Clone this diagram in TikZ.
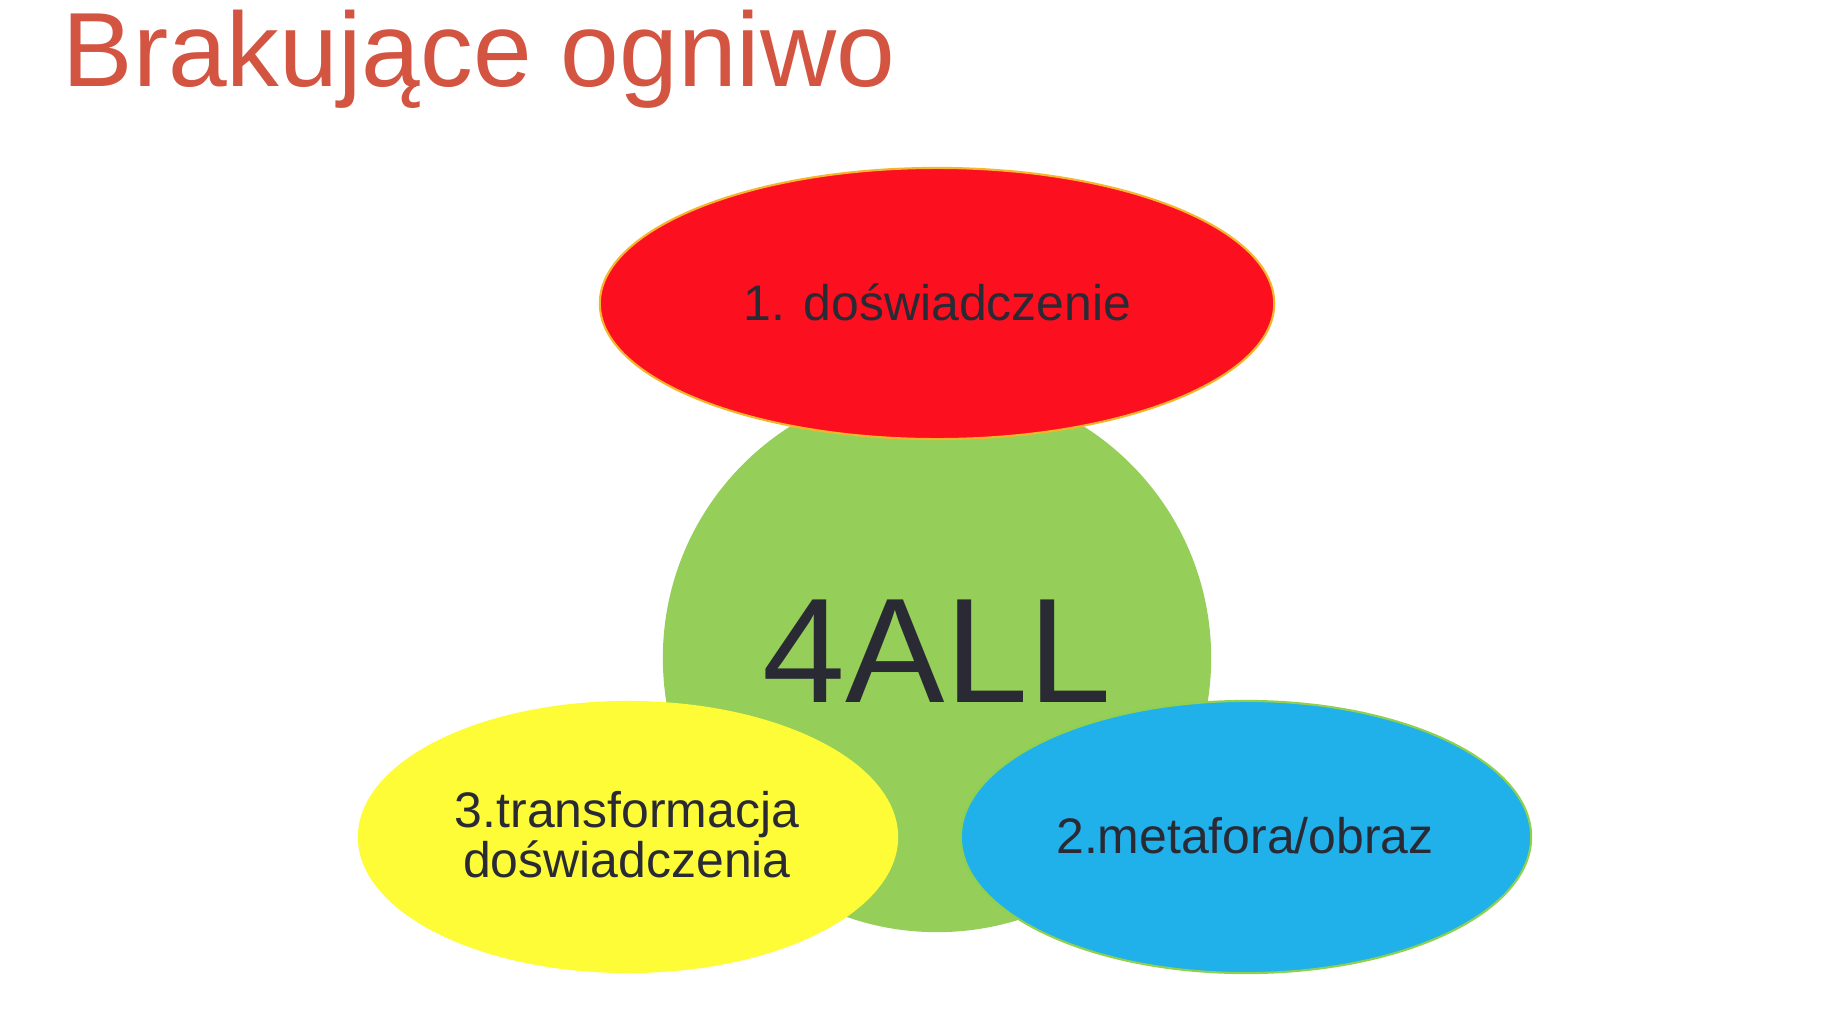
\documentclass[tikz,border=0pt]{standalone}
\usepackage{fontspec}
\setmainfont{Liberation Sans}
\usetikzlibrary{shapes.geometric}
\definecolor{titlecol}{HTML}{D35440}
\definecolor{redfill}{HTML}{FC0F1E}
\definecolor{redline}{HTML}{F7B52C}
\definecolor{greenfill}{HTML}{95CE59}
\definecolor{yellowfill}{HTML}{FDFC37}
\definecolor{bluefill}{HTML}{20B1EB}
\definecolor{blueline}{HTML}{8FD14F}
\definecolor{textcol}{HTML}{2A2A35}
\tikzset{
  blob/.style={ellipse, inner sep=0pt, outer sep=0pt},
  lbl/.style={anchor=base, inner sep=0pt, text=textcol, font=\fontsize{14.2}{14.2}\selectfont},
}
\begin{document}
\begin{tikzpicture}[x=0.01cm, y=-0.01cm]
\useasboundingbox[fill=white] (0,0) rectangle (1833,1024);
% title
\node[anchor=base west, inner sep=0pt, text=titlecol, font=\fontsize{30}{36}\selectfont] (title) at (62,87) {Brakujące ogniwo};
% shapes
\node[blob, fill=greenfill, minimum width=5.48cm, minimum height=5.48cm] (core) at (937,658) {};
\node[blob, fill=redfill, draw=redline, line width=0.6pt, minimum width=6.74cm, minimum height=2.71cm] (exp) at (937,303.5) {};
\node[blob, fill=yellowfill, minimum width=5.40cm, minimum height=2.72cm] (trans) at (628,837) {};
\node[blob, fill=bluefill, draw=blueline, line width=0.6pt, minimum width=5.70cm, minimum height=2.72cm] (meta) at (1246,837) {};
% labels
\node[anchor=base, inner sep=0pt, text=textcol, font=\fontsize{42.4}{48}\selectfont] (all) at (937,702) {4ALL};
\node[lbl] (l1) at (937.5,320) {1. doświadczenie};
\node[lbl] (l2) at (1245,853) {2.metafora/obraz};
\node[lbl] (l3a) at (627,827) {3.transformacja};
\node[lbl] (l3b) at (627,877) {doświadczenia};
\end{tikzpicture}
\end{document}
